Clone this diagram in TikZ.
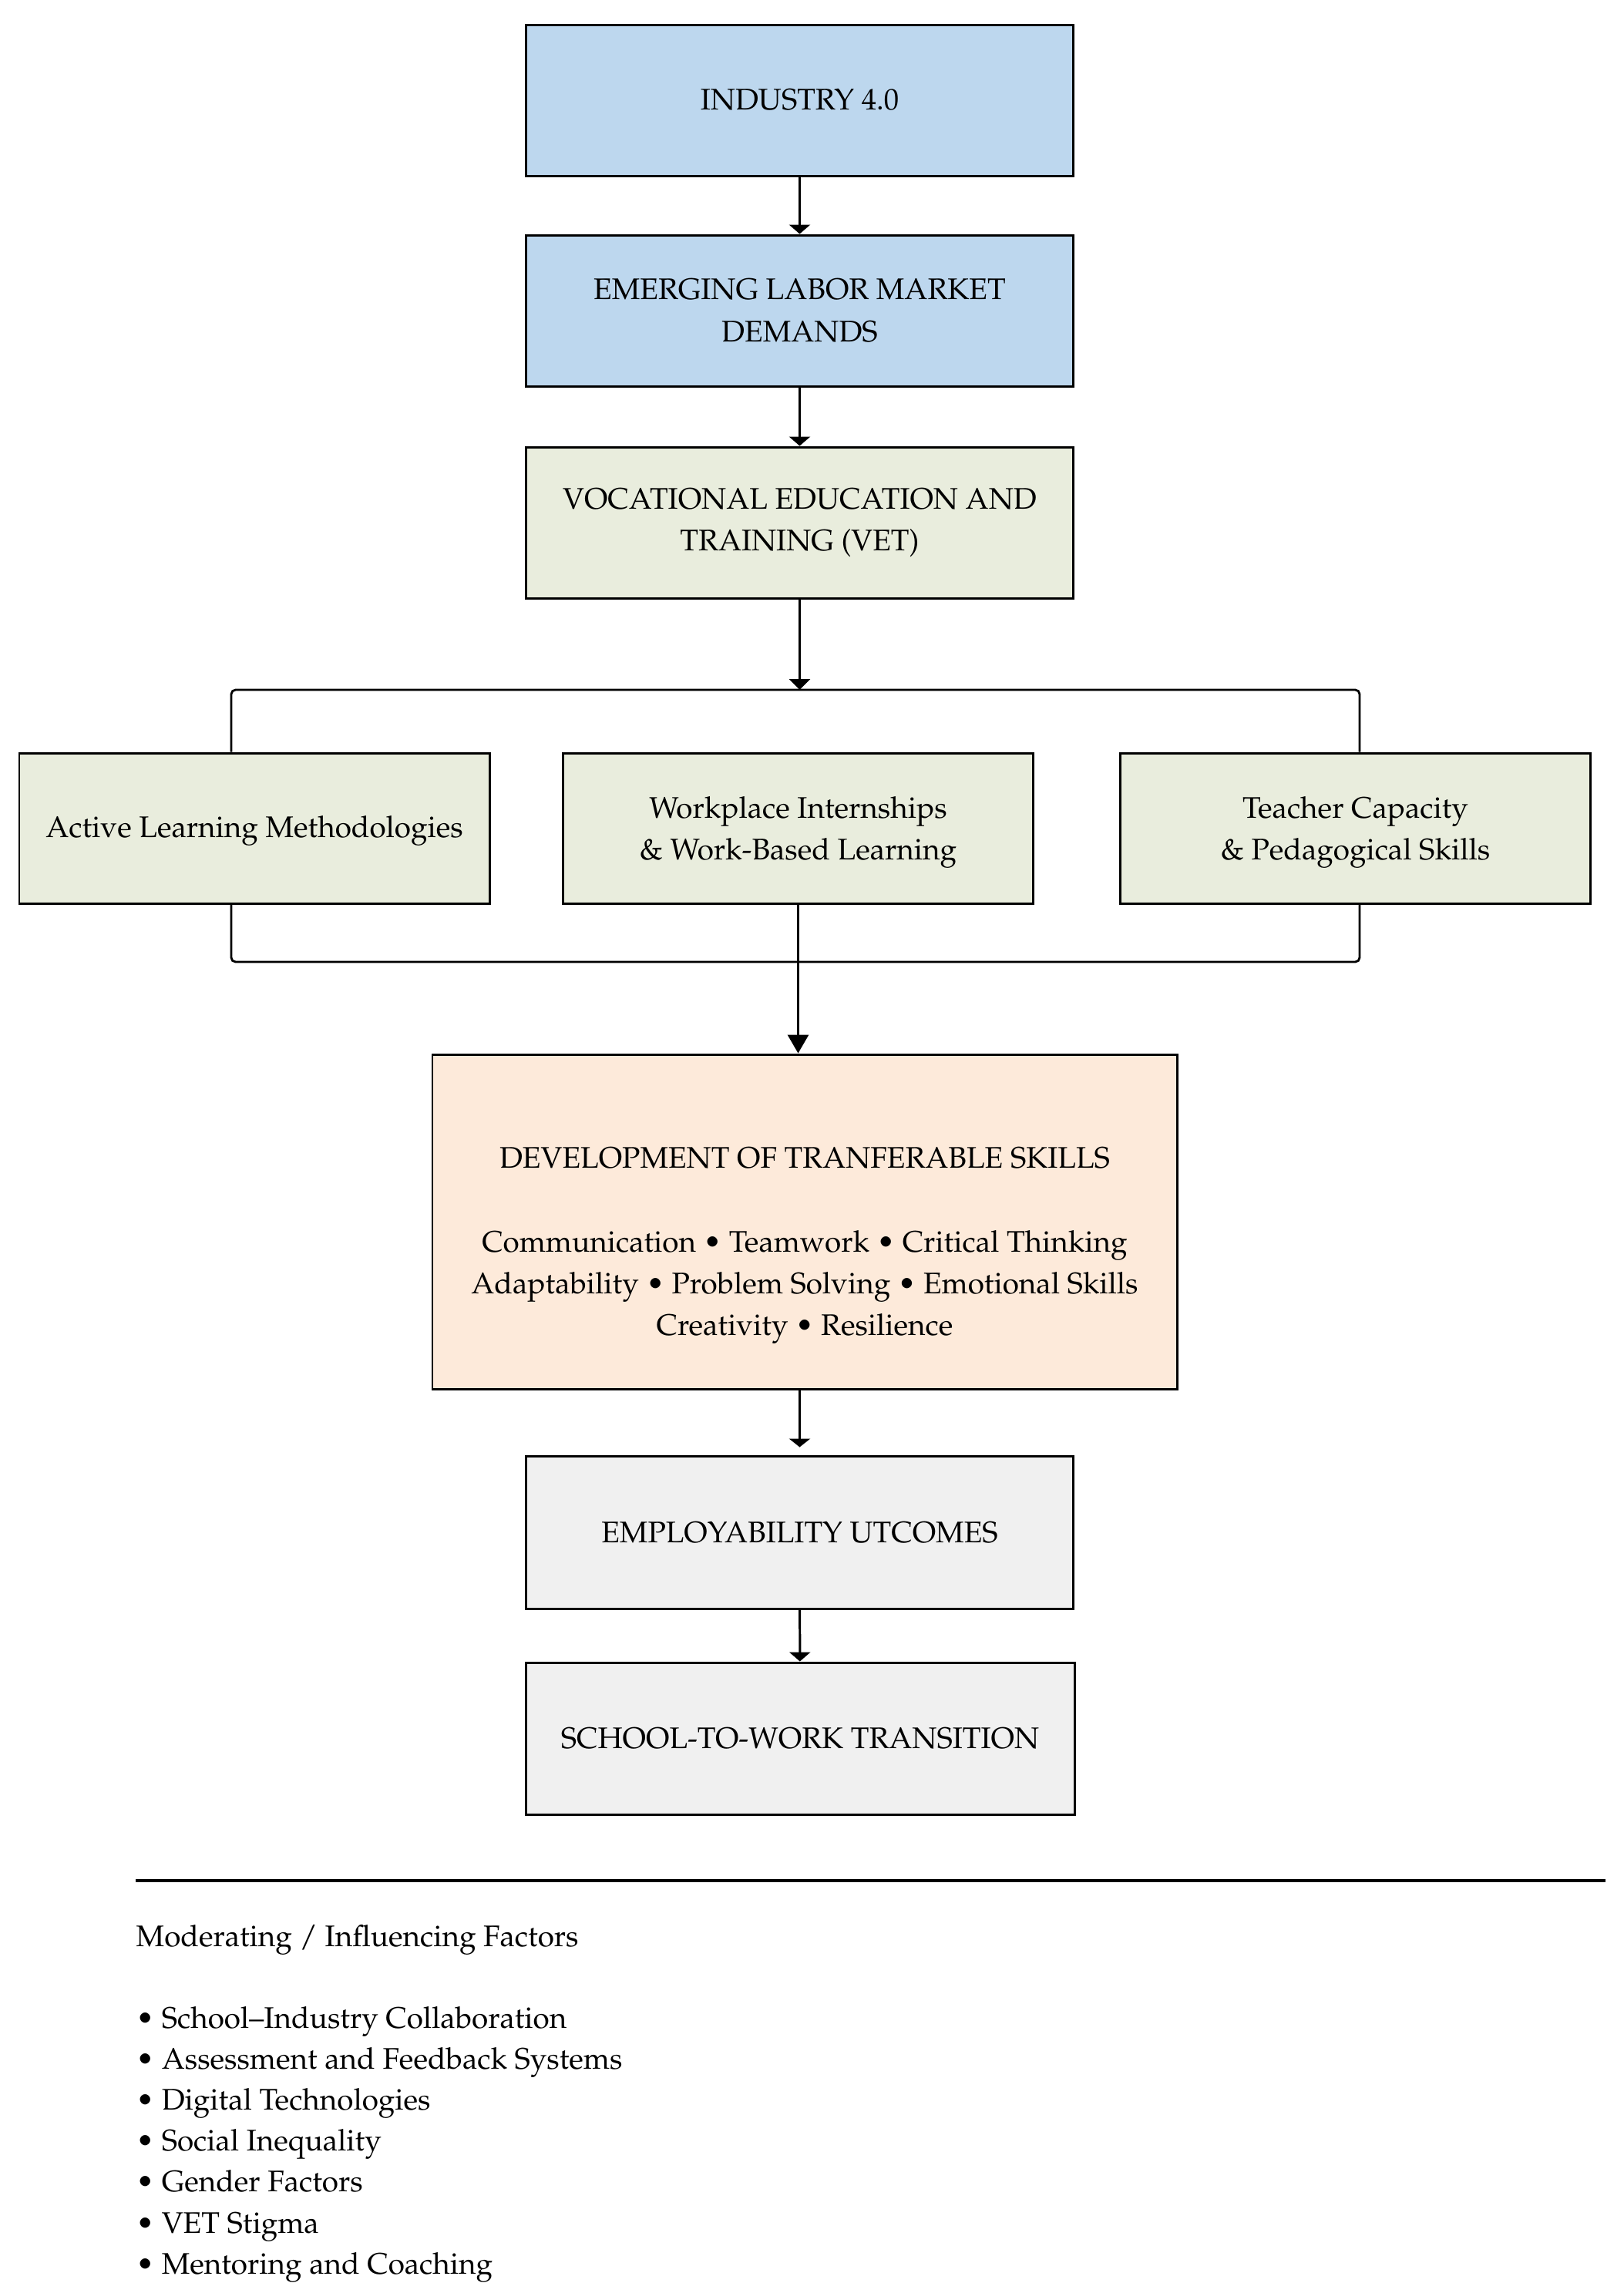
\documentclass[tikz,border=0pt]{standalone}
\usepackage[T1]{fontenc}
\usepackage{mathpazo}
\definecolor{indblue}{RGB}{189,215,238}
\definecolor{vetgreen}{RGB}{233,237,221}
\definecolor{skillpeach}{RGB}{253,234,218}
\definecolor{outgrey}{RGB}{240,240,240}
\usetikzlibrary{arrows.meta}
\tikzstyle{box}=[rectangle,draw=black,line width=0.85pt,minimum width=7.1cm,minimum height=1.96cm,align=center,inner sep=0pt,font=\fontsize{11}{15.4}\selectfont]
\tikzstyle{brace}=[draw,line width=0.8pt,rounded corners=1.6pt]
\tikzstyle{factor}=[anchor=base west,inner sep=0pt,font=\fontsize{11}{15.4}\selectfont]
\tikzset{edge/.style={draw,line width=0.85pt,-{Triangle[width=2.7mm,length=#1]}},edge/.default=1.2mm}

\begin{document}
\begin{tikzpicture}

            \path[use as bounding box] (0,0) rectangle (21.06,-29.75);

            \node[box,fill=indblue] (ind) at (10.375,-1.30) {INDUSTRY 4.0};
            \node[box,fill=indblue] (dem) at (10.375,-4.03) {EMERGING LABOR MARKET\\DEMANDS};
            \node[box,fill=vetgreen] (vet) at (10.375,-6.78) {VOCATIONAL EDUCATION AND\\TRAINING (VET)};

            \node[box,fill=vetgreen,minimum width=6.1cm,minimum height=1.95cm] (act) at (3.30,-10.745) {\rule{0pt}{3.5mm}Active Learning Methodologies};
            \node[box,fill=vetgreen,minimum width=6.1cm,minimum height=1.95cm] (wbl) at (10.355,-10.745) {\rule{0pt}{3.8mm}Workplace Internships\\\& Work-Based Learning};
            \node[box,fill=vetgreen,minimum width=6.1cm,minimum height=1.95cm] (tch) at (17.585,-10.745) {\rule{0pt}{3.8mm}Teacher Capacity\\\& Pedagogical Skills};

            \node[box,fill=skillpeach,minimum width=9.66cm,minimum height=4.34cm] (skl) at (10.44,-15.85)
                {\rule{0pt}{8.9mm}DEVELOPMENT OF TRANFERABLE SKILLS\\[15.4pt]
                 Communication \textbullet{} Teamwork \textbullet{} Critical Thinking\\
                 Adaptability \textbullet{} Problem Solving \textbullet{} Emotional Skills\\
                 Creativity \textbullet{} Resilience};

            \node[box,fill=outgrey,minimum height=1.98cm] (emp) at (10.375,-19.88) {EMPLOYABILITY UTCOMES};
            \node[box,fill=outgrey,minimum width=7.12cm,minimum height=1.97cm] (stw) at (10.38,-22.555) {SCHOOL-TO-WORK TRANSITION};

            % bracket round the three boxes
            \coordinate (top) at (10.375,-8.95);
            \coordinate (bot) at (10.375,-12.48);
            \path[brace] (3.0,0 |- act.north) |- (top) -| (17.64,0 |- tch.north);
            \path[brace] (3.0,0 |- act.south) |- (bot) -| (17.64,0 |- tch.south);

            \path[edge] (ind) -- (dem);
            \path[edge] (dem) -- (vet);
            \path[edge=1.4mm] (vet) -- (top);
            \path[edge=2.4mm] (wbl) -- (wbl |- skl.north);
            \path[edge=1.1mm,shorten >=1mm] (emp.north |- skl.south) -- (emp);
            \path[edge] (emp) -- (stw);

            % factors below the rule
            \coordinate (s1) at (1.76,-24.40);
            \coordinate (s2) at (20.83,-24.40);
            \draw[line width=0.9pt] (s1) -- (s2);

            \node[factor] (f0) at (1.76,-25.25) {Moderating / Influencing Factors};
            \node[factor] (f1) at (1.76,-26.31) {\textbullet{} School--Industry Collaboration};
            \node[factor] (f2) at (1.76,-26.84) {\textbullet{} Assessment and Feedback Systems};
            \node[factor] (f3) at (1.76,-27.37) {\textbullet{} Digital Technologies};
            \node[factor] (f4) at (1.76,-27.90) {\textbullet{} Social Inequality};
            \node[factor] (f5) at (1.76,-28.43) {\textbullet{} Gender Factors};
            \node[factor] (f6) at (1.76,-28.97) {\textbullet{} VET Stigma};
            \node[factor] (f7) at (1.76,-29.50) {\textbullet{} Mentoring and Coaching};

\end{tikzpicture}
\end{document}
